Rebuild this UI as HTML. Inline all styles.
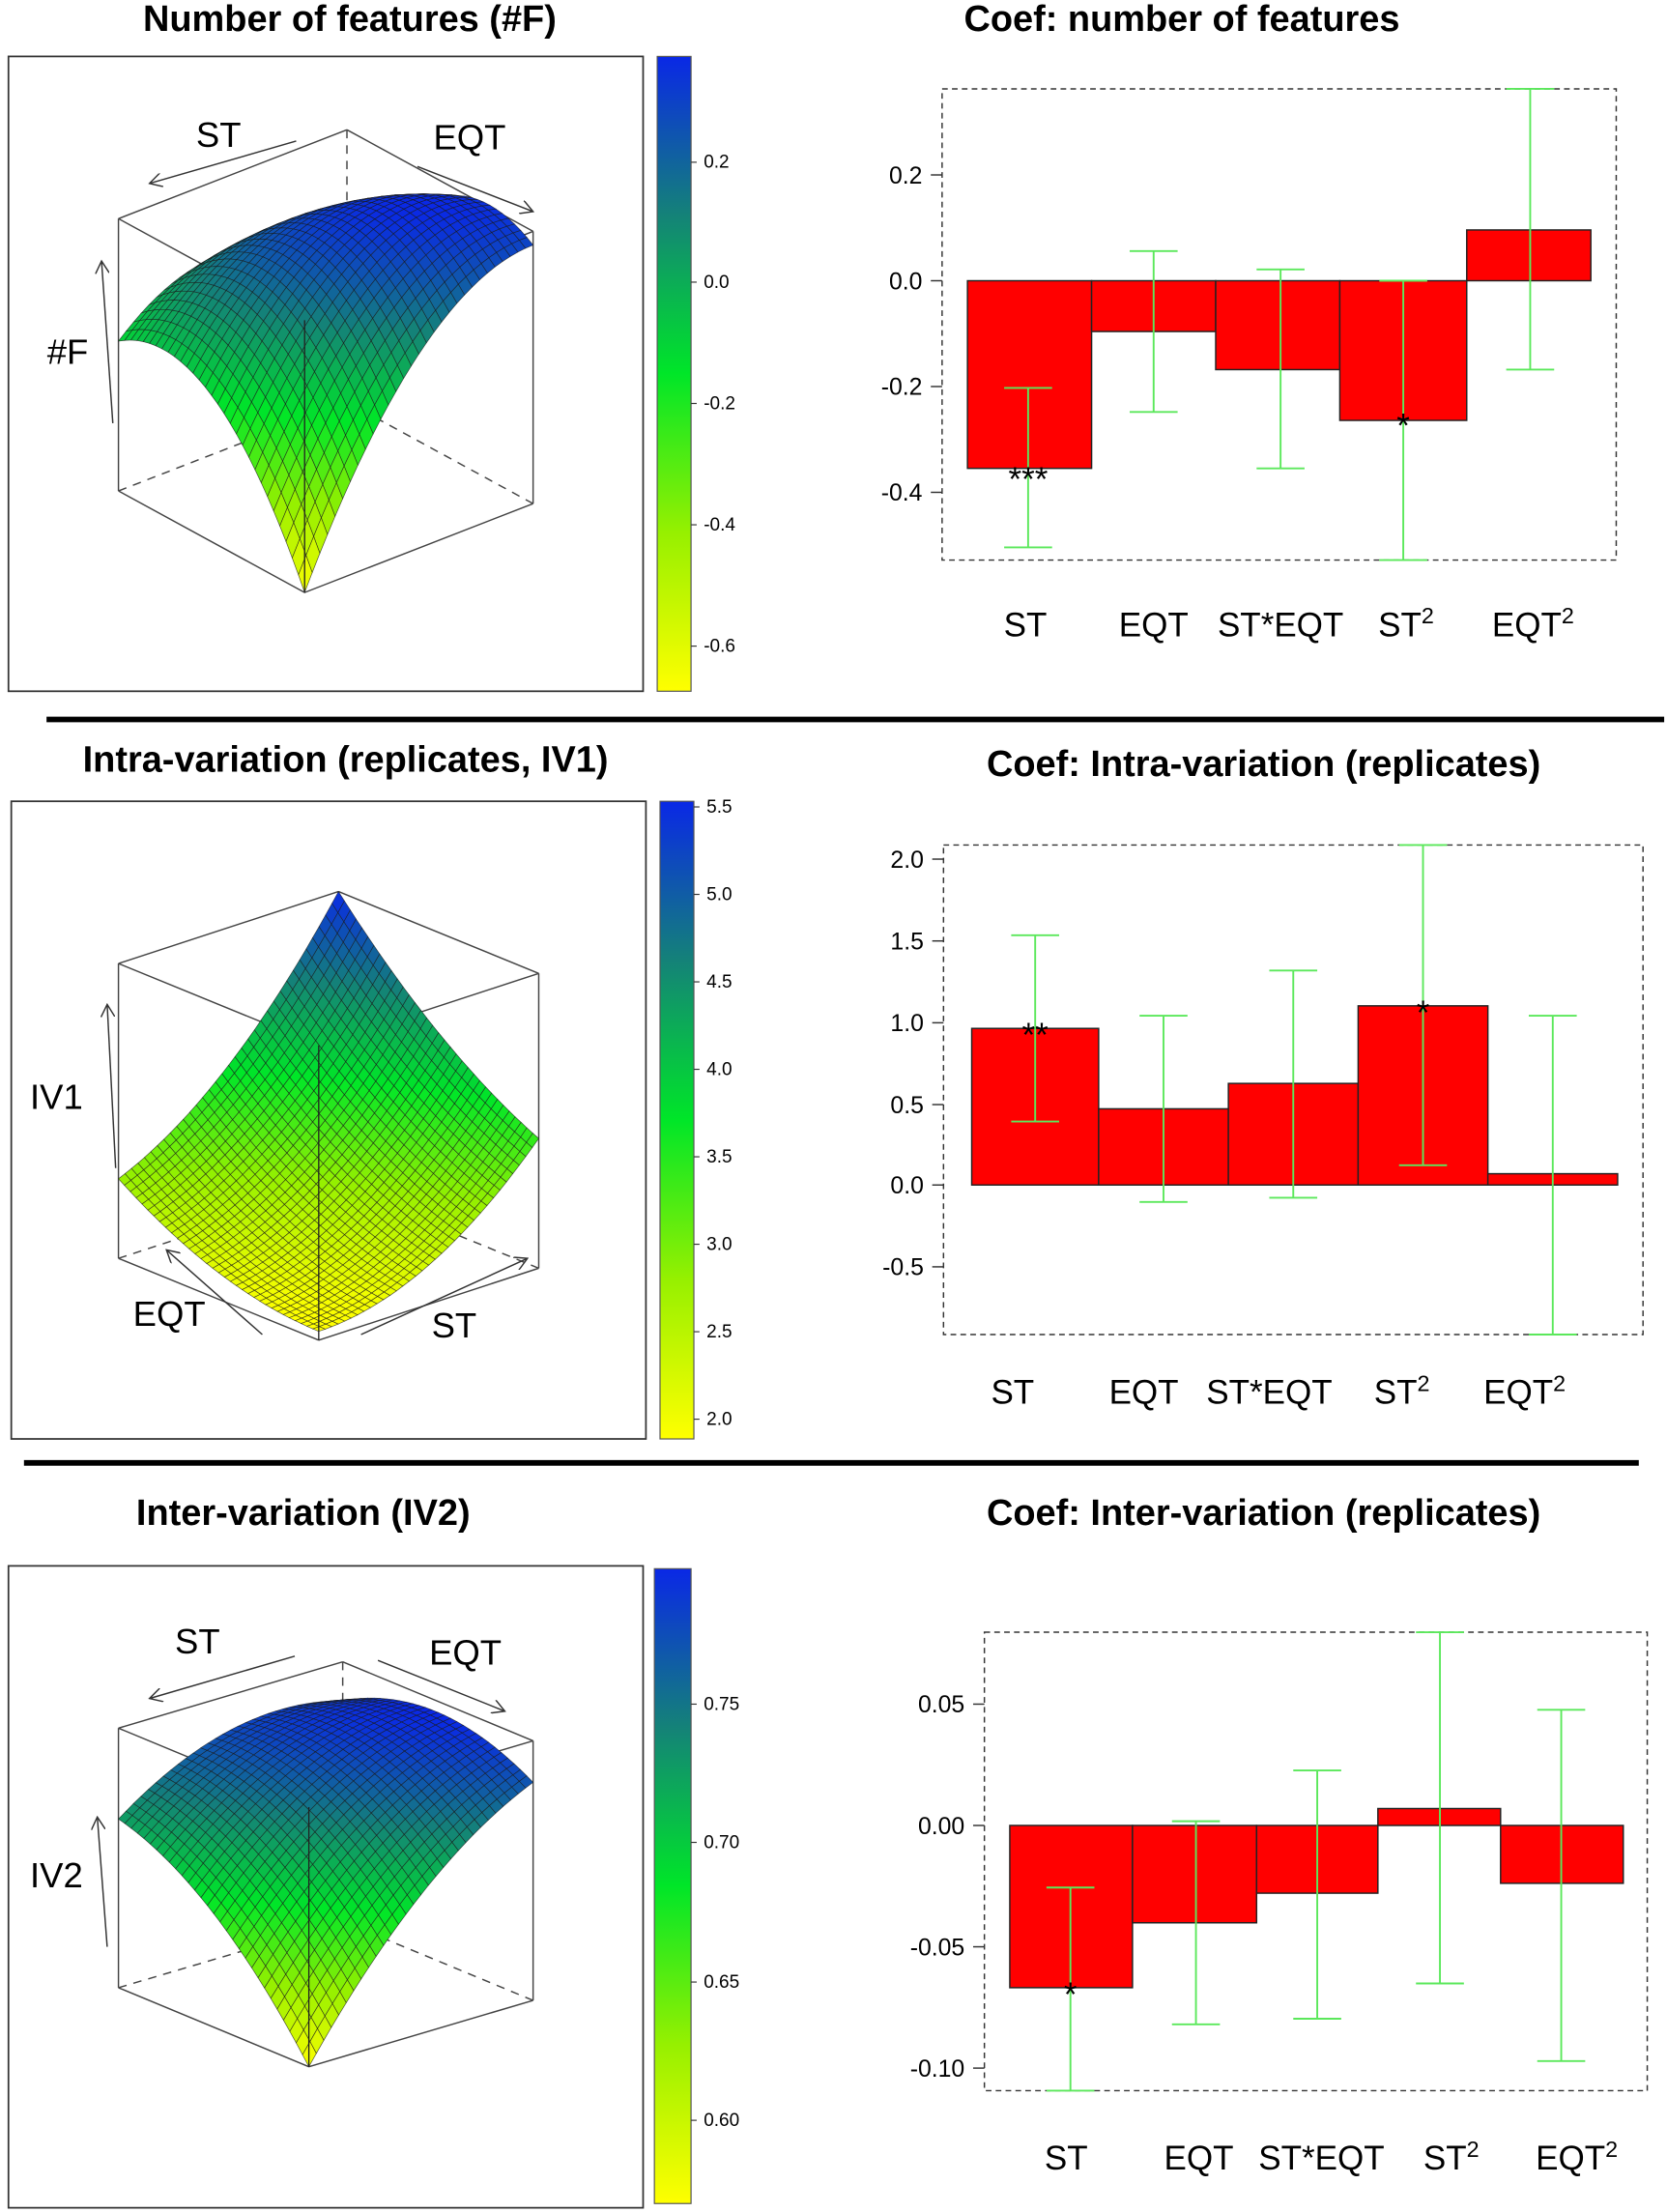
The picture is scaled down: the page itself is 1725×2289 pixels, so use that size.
<!DOCTYPE html>
<html><head><meta charset="utf-8">
<style>
html,body{margin:0;padding:0;background:#fff;}
svg{display:block;}
text{font-family:"Liberation Sans",Arial,sans-serif;fill:#000;}
.t{font-weight:bold;font-size:26px;}
.tk{font-size:13px;}
.ax{font-size:17px;}
.xl{font-size:24px;}
.lab{font-size:25px;}
</style></head>
<body>
<svg id="s" xmlns="http://www.w3.org/2000/svg" width="1725" height="2289" viewBox="0 0 1182 1568" preserveAspectRatio="none">
<defs>
<linearGradient id="cb" x1="0" y1="1" x2="0" y2="0">
<stop offset="0" stop-color="#ffff00"/><stop offset="0.25" stop-color="#96f000"/>
<stop offset="0.5" stop-color="#00e628"/><stop offset="0.75" stop-color="#148278"/>
<stop offset="1" stop-color="#0a28e6"/></linearGradient>
<marker id="ah" markerWidth="10" markerHeight="10" refX="9" refY="5" orient="auto" markerUnits="userSpaceOnUse">
<path d="M0,0 L9,5 L0,10" fill="none" stroke="#333" stroke-width="1"/></marker>
</defs>
<text class="t" x="248" y="22" text-anchor="middle">Number of features (#F)</text>
<text class="t" x="838" y="22" text-anchor="middle">Coef: number of features</text>
<text class="t" x="245" y="547" text-anchor="middle">Intra-variation (replicates, IV1)</text>
<text class="t" x="896" y="550" text-anchor="middle">Coef: Intra-variation (replicates)</text>
<text class="t" x="215" y="1081" text-anchor="middle">Inter-variation (IV2)</text>
<text class="t" x="896" y="1081" text-anchor="middle">Coef: Inter-variation (replicates)</text>
<line x1="33" y1="510" x2="1180" y2="510" stroke="#000" stroke-width="4"/>
<line x1="17" y1="1037" x2="1162" y2="1037" stroke="#000" stroke-width="4"/>
<rect x="6" y="40" width="450" height="450" fill="none" stroke="#333" stroke-width="1.2"/>
<rect x="466" y="40" width="24" height="450" fill="url(#cb)" stroke="#555" stroke-width="0.8"/>
<rect x="8" y="568" width="450" height="452" fill="none" stroke="#333" stroke-width="1.2"/>
<rect x="468" y="568" width="24" height="452" fill="url(#cb)" stroke="#555" stroke-width="0.8"/>
<rect x="6" y="1110" width="450" height="455" fill="none" stroke="#333" stroke-width="1.2"/>
<rect x="464" y="1112" width="26" height="450" fill="url(#cb)" stroke="#555" stroke-width="0.8"/>
<g id="dyn"></g>
</svg>
<script>
var NS="http://www.w3.org/2000/svg",G=document.getElementById("dyn");
function el(n,a,txt){var e=document.createElementNS(NS,n);for(var k in a)e.setAttribute(k,a[k]);if(txt!=null)e.textContent=txt;G.appendChild(e);return e;}
function line(x1,y1,x2,y2,c,w,d,m){var a={x1:x1,y1:y1,x2:x2,y2:y2,stroke:c||"#333","stroke-width":w||1};if(d)a["stroke-dasharray"]=d;if(m)a["marker-end"]="url(#ah)";return el("line",a);}
function txt(x,y,s,cls,anc){return el("text",{x:x,y:y,"class":cls,"text-anchor":anc||"start"},s);}
var stops=[[0,[255,255,0]],[0.25,[150,240,0]],[0.5,[0,230,40]],[0.75,[20,130,120]],[1,[10,40,230]]];
function cmap(v){v=Math.max(0,Math.min(1,v));for(var i=1;i<stops.length;i++){if(v<=stops[i][0]){var a=stops[i-1],b=stops[i],f=(v-a[0])/(b[0]-a[0]);return "rgb("+[0,1,2].map(function(k){return Math.round(a[1][k]+f*(b[1][k]-a[1][k]))}).join(",")+")";}}return "rgb(10,40,230)";}
function colorbar(x,ticks){ticks.forEach(function(t){line(x,t[1],x+4,t[1],"#333",0.8);txt(x+9,t[1]+4,t[0],"tk");});}
colorbar(490,[["0.2",115],["0.0",200],["-0.2",286],["-0.4",372],["-0.6",458]]);
colorbar(492,[["5.5",572],["5.0",634],["4.5",696],["4.0",758],["3.5",820],["3.0",882],["2.5",944],["2.0",1006]]);
colorbar(490,[["0.75",1208],["0.70",1306],["0.65",1405],["0.60",1503]]);

function cube(TL,TR,FT,H){var BK=[TL[0]+TR[0]-FT[0],TL[1]+TR[1]-FT[1]];
 function dn(p){return [p[0],p[1]+H];}
 var TLb=dn(TL),TRb=dn(TR),FTb=dn(FT),BKb=dn(BK);
 line(TLb[0],TLb[1],BKb[0],BKb[1],"#444",1,"6,5");line(TRb[0],TRb[1],BKb[0],BKb[1],"#444",1,"6,5");line(BK[0],BK[1],BKb[0],BKb[1],"#444",1,"6,5");
 [[TL,BK],[BK,TR],[TR,FT],[FT,TL],[TL,TLb],[TR,TRb],[TLb,FTb],[TRb,FTb]].forEach(function(p){line(p[0][0],p[0][1],p[1][0],p[1][1],"#444",1);});
 return function(){line(FT[0],FT[1],FTb[0],FTb[1],"#222",0.9);};
}
function surf(TL,TR,FT,H,zf,n){
 function P(s,t){var z=zf(s,t);return [FT[0]+s*(TL[0]-FT[0])+t*(TR[0]-FT[0]),FT[1]+s*(TL[1]-FT[1])+t*(TR[1]-FT[1])+(1-z)*H];}
 var zmin=1e9,zmax=-1e9,i,j;
 for(i=0;i<=n;i++)for(j=0;j<=n;j++){var z=zf(i/n,j/n);zmin=Math.min(zmin,z);zmax=Math.max(zmax,z);}
 var cells=[];for(i=0;i<n;i++)for(j=0;j<n;j++)cells.push([i,j]);
 cells.sort(function(a,b){return (b[0]+b[1])-(a[0]+a[1]);});
 cells.forEach(function(c){var s0=c[0]/n,s1=(c[0]+1)/n,t0=c[1]/n,t1=(c[1]+1)/n;
  var p=[P(s0,t0),P(s1,t0),P(s1,t1),P(s0,t1)];
  var zc=zf((s0+s1)/2,(t0+t1)/2);
  el("polygon",{points:p.map(function(q){return q[0].toFixed(1)+","+q[1].toFixed(1)}).join(" "),fill:cmap((zc-zmin)/(zmax-zmin)),stroke:"#1a1a1a","stroke-width":0.45,"stroke-opacity":0.75});});
}
(function(){var TL=[84,155],TR=[378,164],FT=[216,227],H=193;
 var f=cube(TL,TR,FT,H);
 surf(TL,TR,FT,H,function(s,t){return 1.6*s-1.05*s*s+1.9*t-0.95*t*t-1.1*s*t;},30);
 f();
 line(210,100,106,130,"#333",1,null,1);line(296,118,378,150,"#333",1,null,1);line(80,300,72,185,"#333",1,null,1);
 txt(155,104,"ST","lab","middle");txt(333,106,"EQT","lab","middle");txt(48,258,"#F","lab","middle");
})();
(function(){var TL=[84,683],TR=[382,690],FT=[226,741],H=209;
 var f=cube(TL,TR,FT,H);
 surf(TL,TR,FT,H,function(s,t){return 0.03+0.24*s*s+0.41*t*t+0.32*s*t;},34);
 f();
 line(82,828,76,712,"#333",1,null,1);line(186,946,118,886,"#333",1,null,1);line(256,946,374,892,"#333",1,null,1);
 txt(40,786,"IV1","lab","middle");txt(120,940,"EQT","lab","middle");txt(322,948,"ST","lab","middle");
})();
(function(){var TL=[84,1225],TR=[378,1234],FT=[219,1281],H=184;
 var f=cube(TL,TR,FT,H);
 surf(TL,TR,FT,H,function(s,t){return 1.1*s-0.45*s*s+1.3*t-0.46*t*t-0.64*s*t;},30);
 f();
 line(209,1174,106,1204,"#333",1,null,1);line(268,1177,358,1213,"#333",1,null,1);line(76,1380,69,1288,"#333",1,null,1);
 txt(140,1172,"ST","lab","middle");txt(330,1180,"EQT","lab","middle");txt(40,1338,"IV2","lab","middle");
})();

function barchart(box,ticks,zero,bars,errs,labs,ly,stars){
 el("rect",{x:box[0],y:box[1],width:box[2]-box[0],height:box[3]-box[1],fill:"none",stroke:"#333","stroke-width":1,"stroke-dasharray":"4,3"});
 ticks.forEach(function(t){line(box[0]-8,t[1],box[0],t[1],"#333",1);txt(box[0]-14,t[1]+6,t[0],"ax","end");});
 bars.forEach(function(b){var y=b[2];el("rect",{x:b[0],y:Math.min(y,zero),width:b[1]-b[0],height:Math.abs(y-zero),fill:"#ff0000",stroke:"#222","stroke-width":1});});
 errs.forEach(function(e){line(e[0],e[1],e[0],e[2],"#5be85b",1.3);line(e[0]-17,e[1],e[0]+17,e[1],"#5be85b",1.3);line(e[0]-17,e[2],e[0]+17,e[2],"#5be85b",1.3);});
 stars.forEach(function(s){txt(s[0],s[1],s[2],"xl","middle");});
 labs.forEach(function(l){var t=txt(l[0],ly,"","xl","middle");var a=document.createElementNS(NS,"tspan");a.textContent=l[1];t.appendChild(a);if(l[2]){var b=document.createElementNS(NS,"tspan");b.setAttribute("dy","-9");b.setAttribute("font-size","16");b.textContent="2";t.appendChild(b);}});
}
barchart([668,63,1146,397],[["0.2",124],["0.0",199],["-0.2",274],["-0.4",349]],199,
 [[686,774,332],[774,862,235],[862,950,262],[950,1040,298],[1040,1128,163]],
 [[729,275,388],[818,178,292],[908,191,332],[995,199,397],[1085,63,262]],
 [[727,"ST"],[818,"EQT"],[908,"ST*EQT"],[997,"ST",1],[1087,"EQT",1]],451,
 [[729,348,"***"],[995,310,"*"]]);
barchart([669,599,1165,946],[["2.0",609],["1.5",667],["1.0",725],["0.5",783],["0.0",840],["-0.5",898]],840,
 [[689,779,729],[779,871,786],[871,963,768],[963,1055,713],[1055,1147,832]],
 [[734,663,795],[825,720,852],[917,688,849],[1009,599,826],[1101,720,946]],
 [[718,"ST"],[811,"EQT"],[900,"ST*EQT"],[994,"ST",1],[1081,"EQT",1]],995,
 [[734,742,"**"],[1009,726,"*"]]);
barchart([698,1157,1168,1482],[["0.05",1208],["0.00",1294],["-0.05",1380],["-0.10",1466]],1294,
 [[716,803,1409],[803,891,1363],[891,977,1342],[977,1064,1282],[1064,1151,1335]],
 [[759,1338,1482],[848,1291,1435],[934,1255,1431],[1021,1157,1406],[1107,1212,1461]],
 [[756,"ST"],[850,"EQT"],[937,"ST*EQT"],[1029,"ST",1],[1118,"EQT",1]],1538,
 [[759,1422,"*"]]);
</script>
</body></html>
